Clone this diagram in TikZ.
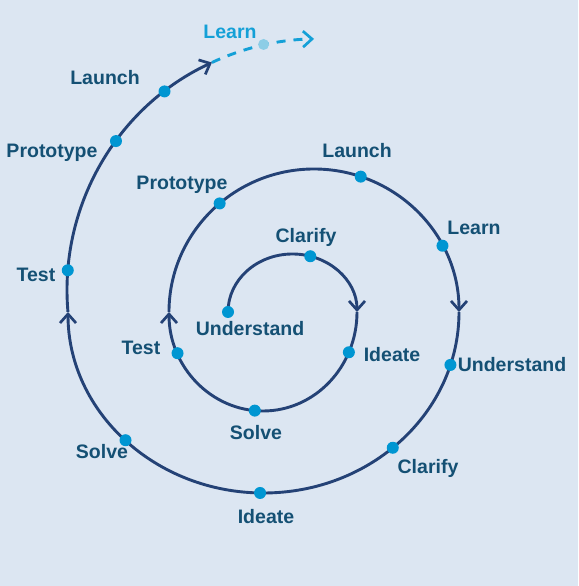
\documentclass[tikz,border=0pt]{standalone}
\usepackage{fontspec}
\setmainfont{Liberation Sans}
\usetikzlibrary{arrows.meta,calc}
\definecolor{bg}{RGB}{220,230,242}
\definecolor{spiralc}{RGB}{36,66,118}
\definecolor{dotc}{RGB}{0,150,210}
\definecolor{labc}{RGB}{20,80,116}
\definecolor{learnc}{RGB}{20,160,215}
\definecolor{lightdot}{RGB}{140,205,230}
\begin{document}
\begin{tikzpicture}[x=1pt,y=1pt,
 spiral/.style={draw=spiralc, line width=2.9pt},
 barb/.style={-{Straight Barb[length=9pt,width=16pt,line width=2.7pt]}},
 dot/.style={circle, fill=dotc, inner sep=0pt, minimum size=12pt},
 lab/.style={text=labc, font=\fontsize{19.5}{20}\selectfont\bfseries, inner sep=0pt, text height=14pt, text depth=0pt}]
\fill[bg] (0,0) rectangle (578,586);
\useasboundingbox (0,0) rectangle (578,586);
% centres of the arcs
\coordinate (cA) at (292.5,274);
\coordinate (cB) at (263,274);
\coordinate (cC) at (314,274);
\coordinate (cD) at (263.5,274);
\coordinate (cE) at (318,296);
% junctions
\coordinate (j0) at (228,274);
\coordinate (j1) at (357,274);
\coordinate (j2) at (169,274);
\coordinate (j3) at (459,274);
\coordinate (j4) at ($(cE)+(185:251pt)$);
\coordinate (j5) at ($(cE)+(115:251pt)$);
% spiral
\draw[spiral,barb] (j0) arc[start angle=180, end angle=0, x radius=64.5pt, y radius=58pt];
\draw[spiral,barb] (j1) arc[start angle=0, end angle=-180, x radius=94pt, y radius=99pt];
\draw[spiral,barb] (j2) arc[start angle=180, end angle=0, x radius=145pt, y radius=143pt];
\draw[spiral,barb] (j3) arc[start angle=0, end angle=-180, x radius=195.5pt, y radius=181pt];
\draw[spiral,barb] (j4) arc[start angle=185, end angle=115, radius=251pt];
\draw[draw=learnc, line width=2.9pt, dash pattern=on 9pt off 8pt, barb] (j5) arc[start angle=115, end angle=91, radius=252pt];
% dots
\node[dot] (d0) at (j0) {};
\path (cA) ++(74:64.5pt and 58pt) node[dot] (d1) {};
\path (cB) ++(-24:94pt and 99pt) node[dot] (d2) {};
\path (cB) ++(-95:94pt and 99pt) node[dot] (d3) {};
\path (cB) ++(-155.4:94pt and 99pt) node[dot] (d4) {};
\path (cC) ++(130.6:145pt and 143pt) node[dot] (d5) {};
\path (cC) ++(71.2:145pt and 143pt) node[dot] (d6) {};
\path (cC) ++(27.6:145pt and 143pt) node[dot] (d7) {};
\path (cD) ++(-17:195.5pt and 181pt) node[dot] (d8) {};
\path (cD) ++(-48.6:195.5pt and 181pt) node[dot] (d9) {};
\path (cD) ++(-91:195.5pt and 181pt) node[dot] (d10) {};
\path (cD) ++(-134.9:195.5pt and 181pt) node[dot] (d11) {};
\path (cE) ++(175.5:251pt) node[dot] (d12) {};
\path (cE) ++(143.6:251pt) node[dot] (d13) {};
\path (cE) ++(127.7:251pt) node[dot] (d14) {};
\path (cE) ++(102.5:251.5pt) node[dot, fill=lightdot, minimum size=11pt] (d15) {};
% labels
\node[lab] (l0) at (250,257) {Understand};
\node[lab] (l1) at (306,350) {Clarify};
\node[lab] (l2) at (392,231) {Ideate};
\node[lab] (l3) at (256,153) {Solve};
\node[lab] (l4) at (141,238) {Test};
\node[lab] (l5) at (182,403) {Prototype};
\node[lab] (l6) at (357,435) {Launch};
\node[lab] (l7) at (474,358) {Learn};
\node[lab] (l8) at (512,221) {Understand};
\node[lab] (l9) at (428,119) {Clarify};
\node[lab] (l10) at (266,69) {Ideate};
\node[lab] (l11) at (102,134) {Solve};
\node[lab] (l12) at (36,311) {Test};
\node[lab] (l13) at (52,435) {Prototype};
\node[lab] (l14) at (105,508) {Launch};
\node[lab, text=learnc] (l15) at (230,554) {Learn};
\end{tikzpicture}
\end{document}
